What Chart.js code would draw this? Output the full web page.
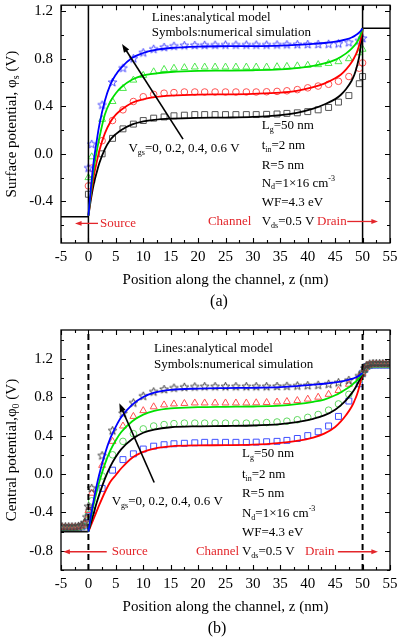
<!DOCTYPE html>
<html lang="en">
<head>
<meta charset="UTF-8">
<title>Surface and central potential along the channel</title>
<script src="https://cdn.jsdelivr.net/npm/chart.js@4"></script>
<style>
  body { margin: 0; background: #fff; }
  #wrap { position: relative; width: 398px; height: 638px; }
  canvas { position: absolute; left: 0; }
</style>
</head>
<body>
<div id="wrap">
  <canvas id="chartA" width="398" height="318" style="top:0"></canvas>
  <canvas id="chartB" width="398" height="320" style="top:318px"></canvas>
</div>
<script>
// ---- data ----
const xTicks = [-5, 0, 5, 10, 15, 20, 25, 30, 35, 40, 45, 50, 55];
const yTicksA = [-0.4, 0.0, 0.4, 0.8, 1.2];
const yTicksB = [-0.8, -0.4, 0.0, 0.4, 0.8, 1.2];

// analytical model, z (nm)
const zLine = [0, 0.5, 1, 1.5, 2, 3, 4, 5, 6, 8, 10, 12, 15, 20, 25, 30, 35, 38, 41, 43, 45, 46, 47, 48, 48.5, 49, 49.5, 50];

// (a) surface potential, Vgs = 0.6, 0.4, 0.2, 0 V
const blueA  = [-0.52, -0.262, -0.05, 0.105, 0.245, 0.446, 0.582, 0.666, 0.725, 0.807, 0.848, 0.872, 0.89, 0.902, 0.905, 0.906, 0.91, 0.916, 0.924, 0.932, 0.943, 0.951, 0.962, 0.978, 0.99, 1.005, 1.025, 1.055];
const greenA = [-0.52, -0.30, -0.117, 0.016, 0.135, 0.33, 0.44, 0.51, 0.56, 0.625, 0.66, 0.675, 0.688, 0.698, 0.70, 0.703, 0.71, 0.72, 0.74, 0.76, 0.79, 0.815, 0.845, 0.885, 0.91, 0.94, 0.985, 1.055];
const redA   = [-0.52, -0.335, -0.183, -0.072, 0.028, 0.172, 0.268, 0.329, 0.371, 0.43, 0.459, 0.476, 0.489, 0.498, 0.50, 0.505, 0.515, 0.53, 0.56, 0.59, 0.635, 0.665, 0.71, 0.77, 0.81, 0.86, 0.935, 1.055];
const blackA = [-0.52, -0.371, -0.248, -0.158, -0.077, 0.039, 0.118, 0.166, 0.201, 0.248, 0.272, 0.286, 0.296, 0.303, 0.305, 0.31, 0.325, 0.345, 0.38, 0.415, 0.46, 0.495, 0.545, 0.615, 0.665, 0.74, 0.85, 1.055];

// (a) numerical simulation
const zSymA = [0, 0.6, 2.5, 4.4, 6.3, 8.2, 10.0, 11.9, 13.8, 15.6, 17.5, 19.4, 21.2, 23.1, 25.0, 26.9, 28.8, 30.6, 32.5, 34.4, 36.2, 38.1, 40.0, 41.9, 43.8, 45.6, 47.5, 49.4, 50.0];
const starsA     = [-0.12, 0.08, 0.41, 0.60, 0.72, 0.80, 0.85, 0.88, 0.895, 0.905, 0.91, 0.912, 0.913, 0.914, 0.915, 0.915, 0.915, 0.915, 0.915, 0.916, 0.917, 0.918, 0.919, 0.92, 0.922, 0.925, 0.935, 0.95, 0.97];
const trianglesA = [-0.20, -0.025, 0.29, 0.44, 0.55, 0.62, 0.66, 0.69, 0.71, 0.72, 0.725, 0.73, 0.73, 0.73, 0.73, 0.73, 0.73, 0.73, 0.73, 0.733, 0.736, 0.74, 0.745, 0.75, 0.76, 0.775, 0.80, 0.85, 0.88];
const circlesA   = [-0.27, -0.12, 0.11, 0.28, 0.37, 0.44, 0.48, 0.50, 0.51, 0.515, 0.52, 0.52, 0.52, 0.52, 0.52, 0.52, 0.52, 0.52, 0.522, 0.525, 0.53, 0.54, 0.555, 0.57, 0.585, 0.61, 0.65, 0.72, 0.765];
const squaresA   = [-0.34, -0.22, 0.0, 0.13, 0.21, 0.25, 0.28, 0.30, 0.31, 0.32, 0.325, 0.33, 0.33, 0.33, 0.33, 0.33, 0.33, 0.33, 0.332, 0.335, 0.34, 0.345, 0.355, 0.37, 0.39, 0.435, 0.49, 0.59, 0.65];

// (a) source / drain levels and gate edges
const gateEdges = [0, 50];
const sourceLevelA = -0.53;
const drainLevelA = 1.056;

// (b) central potential, analytical model
const blueB  = [-0.60, -0.421, -0.262, -0.122, 0.0, 0.209, 0.373, 0.494, 0.593, 0.723, 0.802, 0.847, 0.877, 0.89, 0.895, 0.898, 0.905, 0.915, 0.93, 0.94, 0.955, 0.963, 0.975, 0.99, 1.0, 1.013, 1.03, 1.05];
const greenB = [-0.60, -0.444, -0.306, -0.184, -0.079, 0.103, 0.246, 0.352, 0.437, 0.55, 0.619, 0.658, 0.684, 0.696, 0.70, 0.703, 0.712, 0.728, 0.752, 0.775, 0.82, 0.85, 0.885, 0.925, 0.95, 0.975, 1.01, 1.05];
const blackB = [-0.60, -0.50, -0.40, -0.30, -0.21, -0.05, 0.08, 0.18, 0.26, 0.365, 0.43, 0.463, 0.487, 0.497, 0.50, 0.505, 0.52, 0.54, 0.575, 0.61, 0.67, 0.715, 0.77, 0.84, 0.88, 0.93, 0.985, 1.05];
const redB   = [-0.60, -0.53, -0.46, -0.39, -0.32, -0.19, -0.08, -0.01, 0.06, 0.17, 0.23, 0.265, 0.288, 0.298, 0.30, 0.305, 0.325, 0.345, 0.38, 0.42, 0.49, 0.545, 0.615, 0.70, 0.76, 0.83, 0.93, 1.05];
const zSourceB = [-5, 0];
const vSourceB = [-0.60, -0.60];
const zDrainB = [50, 50.5, 51, 52, 55];
const vDrainB = [1.05, 1.11, 1.13, 1.135, 1.135];

// (b) numerical simulation
const zSymB = [-4.8, -4.2, -3.6, -3.0, -2.4, -1.8, -1.2, -0.7, -0.3, 0,
  0.6, 2.5, 4.4, 6.3, 8.2, 10.0, 11.9, 13.8, 15.6, 17.5, 19.4, 21.2, 23.1, 25.0, 26.9, 28.8, 30.6, 32.5, 34.4, 36.2, 38.1, 40.0, 41.9, 43.8, 45.6, 47.5, 49.4,
  50.0, 50.4, 50.8, 51.3, 51.9, 52.5, 53.1, 53.7, 54.3, 54.9];
const starsB = [-0.55, -0.55, -0.55, -0.55, -0.55, -0.545, -0.535, -0.51, -0.45, -0.34,
  -0.15, 0.19, 0.45, 0.63, 0.74, 0.81, 0.855, 0.88, 0.895, 0.903, 0.907, 0.91, 0.91, 0.91, 0.91, 0.91, 0.91, 0.91, 0.912, 0.914, 0.917, 0.92, 0.925, 0.935, 0.95, 0.975, 1.02,
  1.05, 1.10, 1.13, 1.145, 1.15, 1.15, 1.15, 1.15, 1.15, 1.15];
const trianglesB = [-0.555, -0.555, -0.555, -0.555, -0.555, -0.55, -0.54, -0.52, -0.47, -0.38,
  -0.20, 0.09, 0.34, 0.50, 0.60, 0.66, 0.70, 0.72, 0.73, 0.735, 0.74, 0.74, 0.74, 0.74, 0.74, 0.74, 0.742, 0.745, 0.75, 0.755, 0.765, 0.78, 0.80, 0.83, 0.87, 0.935, 1.01,
  1.05, 1.10, 1.13, 1.14, 1.145, 1.145, 1.145, 1.145, 1.145, 1.145];
const circlesB = [-0.56, -0.56, -0.56, -0.56, -0.56, -0.555, -0.545, -0.53, -0.49, -0.42,
  -0.28, -0.02, 0.20, 0.34, 0.42, 0.47, 0.50, 0.515, 0.525, 0.53, 0.53, 0.53, 0.53, 0.53, 0.53, 0.53, 0.532, 0.536, 0.542, 0.55, 0.565, 0.59, 0.62, 0.665, 0.73, 0.83, 0.98,
  1.05, 1.09, 1.12, 1.135, 1.14, 1.14, 1.14, 1.14, 1.14, 1.14];
const squaresB = [-0.565, -0.565, -0.565, -0.565, -0.565, -0.56, -0.55, -0.54, -0.51, -0.45,
  -0.38, -0.15, 0.04, 0.15, 0.21, 0.26, 0.29, 0.305, 0.315, 0.32, 0.325, 0.33, 0.33, 0.33, 0.33, 0.33, 0.332, 0.336, 0.34, 0.35, 0.37, 0.40, 0.44, 0.50, 0.60, 0.76, 0.94,
  1.05, 1.09, 1.12, 1.13, 1.135, 1.135, 1.135, 1.135, 1.135, 1.135];

// annotations: [text, z, potential]
const notesA = [
  ['Lines:analytical model', 11.55, 1.149],
  ['Symbols:numerical simulation', 11.55, 1.02],
  ['L_{g}=50 nm', 31.6, 0.237],
  ['t_{in}=2 nm', 31.6, 0.066],
  ['R=5 nm', 31.6, -0.099],
  ['N_{d}=1×16 cm^{-3}', 31.6, -0.247],
  ['WF=4.3 eV', 31.6, -0.412],
  ['V_{ds}=0.5 V', 31.6, -0.569],
  ['V_{gs}=0, 0.2, 0.4, 0.6 V', 7.3, 0.044]
];
const regionNotesA = [['Source', 2.1, -0.585], ['Channel', 21.8, -0.569], ['Drain', 41.7, -0.569]];
const notesB = [
  ['Lines:analytical model', 11.96, 1.309],
  ['Symbols:numerical simulation', 11.96, 1.135],
  ['L_{g}=50 nm', 28.0, 0.216],
  ['t_{in}=2 nm', 28.0, -0.01],
  ['R=5 nm', 28.0, -0.208],
  ['N_{d}=1×16 cm^{-3}', 28.0, -0.41],
  ['WF=4.3 eV', 28.0, -0.61],
  ['V_{ds}=0.5 V', 28.0, -0.81],
  ['V_{gs}=0, 0.2, 0.4, 0.6 V', 4.25, -0.289]
];
const regionNotesB = [['Source', 4.25, -0.81], ['Channel', 19.6, -0.81], ['Drain', 39.5, -0.81]];
// arrows: [z0, v0, z1, v1] (tail -> head)
const arrowA = [17.25, 0.124, 6.13, 0.924];
const redArrowsA = [[1.75, -0.585, -2.45, -0.585], [47.2, -0.569, 52.8, -0.569]];
const arrowB = [12.0, -0.089, 5.64, 0.736];
const redArrowsB = [[3.34, -0.81, -4.58, -0.81], [45.5, -0.81, 52.8, -0.81]];

// ---- drawing ----
const FAMILY = "'Liberation Serif', 'Times New Roman', serif";
const RED = '#e3262b';
Chart.defaults.font.family = FAMILY;
Chart.defaults.font.size = 15;
Chart.defaults.color = '#000';

const pts = (xs, ys) => xs.map((x, i) => ({x: x, y: ys[i]}));

function curve(xs, ys, color, extra) {
  return Object.assign({
    data: pts(xs, ys), showLine: true, borderColor: color, borderWidth: 1.8,
    pointRadius: 0, cubicInterpolationMode: 'monotone', fill: false
  }, extra || {});
}
function marks(xs, ys, color, style, r) {
  return {
    data: pts(xs, ys), showLine: false, pointStyle: style, pointRadius: r,
    borderColor: color, backgroundColor: 'rgba(0,0,0,0)', borderWidth: 1
  };
}
function starImage(color, r) {
  const c = document.createElement('canvas');
  const s = Math.ceil(r * 2 + 2);
  c.width = s; c.height = s;
  const g = c.getContext('2d');
  g.strokeStyle = color; g.lineWidth = 1;
  g.beginPath();
  for (let i = 0; i < 10; i++) {
    const rr = i % 2 ? r * 0.42 : r;
    const ang = -Math.PI / 2 + i * Math.PI / 5;
    g.lineTo(s / 2 + rr * Math.cos(ang), s / 2 + rr * Math.sin(ang));
  }
  g.closePath(); g.stroke();
  return c;
}

function parseRich(str) {
  const parts = [], re = /([_^])\{([^}]*)\}/g;
  let last = 0, m;
  while ((m = re.exec(str))) {
    if (m.index > last) parts.push([str.slice(last, m.index), '']);
    parts.push([m[2], m[1] === '_' ? 'sub' : 'sup']);
    last = re.lastIndex;
  }
  if (last < str.length) parts.push([str.slice(last), '']);
  return parts;
}
function drawRich(ctx, str, x, y, size, color, align) {
  const parts = parseRich(str);
  const small = Math.round(size * 0.65);
  ctx.fillStyle = color; ctx.textBaseline = 'middle'; ctx.textAlign = 'left';
  let w = 0;
  for (const [t, k] of parts) { ctx.font = (k ? small : size) + 'px ' + FAMILY; w += ctx.measureText(t).width; }
  let cx = align === 'center' ? x - w / 2 : x;
  for (const [t, k] of parts) {
    ctx.font = (k ? small : size) + 'px ' + FAMILY;
    const dy = k === 'sub' ? size * 0.32 : k === 'sup' ? -size * 0.32 : 0;
    ctx.fillText(t, cx, y + dy);
    cx += ctx.measureText(t).width;
  }
}
function drawArrow(ctx, x0, y0, x1, y1, color, width, head) {
  const ang = Math.atan2(y1 - y0, x1 - x0);
  ctx.strokeStyle = color; ctx.fillStyle = color; ctx.lineWidth = width;
  ctx.beginPath(); ctx.moveTo(x0, y0);
  ctx.lineTo(x1 - Math.cos(ang) * head * 0.8, y1 - Math.sin(ang) * head * 0.8); ctx.stroke();
  ctx.beginPath(); ctx.moveTo(x1, y1);
  ctx.lineTo(x1 - head * Math.cos(ang - 0.35), y1 - head * Math.sin(ang - 0.35));
  ctx.lineTo(x1 - head * Math.cos(ang + 0.35), y1 - head * Math.sin(ang + 0.35));
  ctx.closePath(); ctx.fill();
}

// box with inward major + minor ticks on all four sides
const framePlugin = {
  id: 'frame',
  afterDatasetsDraw(chart) {
    const {ctx, chartArea: a, scales: {x, y}} = chart;
    ctx.save();
    ctx.strokeStyle = '#000'; ctx.lineWidth = 1.3;
    ctx.strokeRect(a.left, a.top, a.right - a.left, a.bottom - a.top);
    ctx.lineWidth = 1.1;
    const withMinor = (scale) => {
      const v = scale.ticks.map(t => t.value), step = v[1] - v[0], out = [];
      v.forEach(t => out.push([t, 5]));
      for (let t = v[0] - step / 2; t <= scale.max + 1e-9; t += step)
        if (t >= scale.min - 1e-9) out.push([t, 3]);
      return out;
    };
    ctx.beginPath();
    withMinor(x).forEach(([t, len]) => {
      const p = Math.round(x.getPixelForValue(t)) + 0.5;
      ctx.moveTo(p, a.bottom); ctx.lineTo(p, a.bottom - len);
      ctx.moveTo(p, a.top); ctx.lineTo(p, a.top + len);
    });
    withMinor(y).forEach(([t, len]) => {
      const p = Math.round(y.getPixelForValue(t)) + 0.5;
      ctx.moveTo(a.left, p); ctx.lineTo(a.left + len, p);
      ctx.moveTo(a.right, p); ctx.lineTo(a.right - len, p);
    });
    ctx.stroke();
    ctx.restore();
  }
};

// titles, labels and arrows
function notesPlugin(cfg) {
  return {
    id: 'notes',
    afterDraw(chart) {
      const {ctx, chartArea: a, scales: {x, y}} = chart;
      ctx.save();
      cfg.notes.forEach(([t, z, v]) => drawRich(ctx, t, x.getPixelForValue(z), y.getPixelForValue(v), 13, '#000'));
      cfg.regions.forEach(([t, z, v]) => drawRich(ctx, t, x.getPixelForValue(z), y.getPixelForValue(v), 13, RED));
      const ar = cfg.arrow;
      drawArrow(ctx, x.getPixelForValue(ar[0]), y.getPixelForValue(ar[1]), x.getPixelForValue(ar[2]), y.getPixelForValue(ar[3]), '#000', 1.6, 9);
      cfg.redArrows.forEach(r => drawArrow(ctx, x.getPixelForValue(r[0]), y.getPixelForValue(r[1]), x.getPixelForValue(r[2]), y.getPixelForValue(r[3]), RED, 1.3, 7));
      drawRich(ctx, cfg.xTitle, (a.left + a.right) / 2, cfg.xTitleY, 15, '#000', 'center');
      drawRich(ctx, cfg.panel, cfg.panelX, cfg.panelY, 16, '#000', 'center');
      ctx.translate(cfg.yTitleX, (a.top + a.bottom) / 2);
      ctx.rotate(-Math.PI / 2);
      drawRich(ctx, cfg.yTitle, 0, 0, 15, '#000', 'center');
      ctx.restore();
    }
  };
}

function scalesFor(yMin, yMax, yTicks, xHeight) {
  return {
    x: {
      type: 'linear', min: -5, max: 55,
      afterBuildTicks: s => { s.ticks = xTicks.map(v => ({value: v})); },
      afterFit: s => { s.height = xHeight; s.paddingLeft = 0; s.paddingRight = 0; },
      grid: {display: false, drawTicks: false}, border: {display: false},
      ticks: {padding: 5, maxRotation: 0, autoSkip: false, callback: v => String(v)}
    },
    y: {
      type: 'linear', min: yMin, max: yMax,
      afterBuildTicks: s => { s.ticks = yTicks.map(v => ({value: v})); },
      afterFit: s => { s.width = 61; s.paddingTop = 0; s.paddingBottom = 0; },
      grid: {display: false, drawTicks: false}, border: {display: false},
      ticks: {padding: 8, autoSkip: false, callback: v => Number(v).toFixed(1)}
    }
  };
}

const commonOpts = {
  responsive: false, animation: false, events: [],
  plugins: {legend: {display: false}, tooltip: {enabled: false}}
};

// ---- (a) surface potential ----
new Chart(document.getElementById('chartA'), {
  type: 'scatter',
  data: {
    datasets: [
      curve(zLine, blueA, '#0000ff'),
      curve(zLine, greenA, '#00e000'),
      curve(zLine, redA, '#ff0000'),
      curve(zLine, blackA, '#000000'),
      curve([-5, gateEdges[0]], [sourceLevelA, sourceLevelA], '#000', {cubicInterpolationMode: 'default', borderWidth: 1.5}),
      curve([gateEdges[1], 55], [drainLevelA, drainLevelA], '#000', {cubicInterpolationMode: 'default', borderWidth: 1.5}),
      curve([gateEdges[0], gateEdges[0]], [-0.75, 1.25], '#000', {cubicInterpolationMode: 'default', borderWidth: 1.5}),
      curve([gateEdges[1], gateEdges[1]], [-0.75, 1.25], '#000', {cubicInterpolationMode: 'default', borderWidth: 1.5}),
      marks(zSymA, starsA, '#4b4bff', starImage('#4b4bff', 4.5), 4),
      marks(zSymA, trianglesA, '#4ee84e', 'triangle', 4),
      marks(zSymA, circlesA, '#ff5050', 'circle', 3.3),
      marks(zSymA, squaresA, '#555555', 'rect', 4.2)
    ]
  },
  options: Object.assign({}, commonOpts, {
    layout: {padding: {top: 1, right: 8, bottom: 0, left: 0}},
    scales: scalesFor(-0.75, 1.25, yTicksA, 75)
  }),
  plugins: [framePlugin, notesPlugin({
    notes: notesA, regions: regionNotesA, arrow: arrowA, redArrows: redArrowsA,
    xTitle: 'Position along the channel, z (nm)', xTitleY: 280,
    panel: '(a)', panelX: 219, panelY: 302,
    yTitle: 'Surface potential, φ_{s} (V)', yTitleX: 12
  })]
});

// ---- (b) central potential ----
new Chart(document.getElementById('chartB'), {
  type: 'scatter',
  data: {
    datasets: [
      curve(zLine, blueB, '#0000ff'),
      curve(zLine, greenB, '#00e000'),
      curve(zLine, blackB, '#000000'),
      curve(zLine, redB, '#ff0000'),
      curve(zSourceB, vSourceB, '#111', {cubicInterpolationMode: 'default', borderWidth: 1.8}),
      curve(zDrainB, vDrainB, '#444', {borderWidth: 1.8}),
      curve([gateEdges[0], gateEdges[0]], [-1.0, 1.5], '#000', {cubicInterpolationMode: 'default', borderWidth: 2, borderDash: [6, 4]}),
      curve([gateEdges[1], gateEdges[1]], [-1.0, 1.5], '#000', {cubicInterpolationMode: 'default', borderWidth: 2, borderDash: [6, 4]}),
      marks(zSymB, starsB, '#444444', starImage('#444444', 4.5), 4),
      marks(zSymB, trianglesB, '#ff5050', 'triangle', 4),
      marks(zSymB, circlesB, '#5fd85f', 'circle', 3.3),
      marks(zSymB, squaresB, '#4050ff', 'rect', 4.2)
    ]
  },
  options: Object.assign({}, commonOpts, {
    layout: {padding: {top: 12, right: 8, bottom: 0, left: 0}},
    scales: scalesFor(-1.0, 1.5, yTicksB, 68)
  }),
  plugins: [framePlugin, notesPlugin({
    notes: notesB, regions: regionNotesB, arrow: arrowB, redArrows: redArrowsB,
    xTitle: 'Position along the channel, z (nm)', xTitleY: 289,
    panel: '(b)', panelX: 217, panelY: 311,
    yTitle: 'Central potential,φ_{0} (V)', yTitleX: 12
  })]
});
</script>
</body>
</html>
